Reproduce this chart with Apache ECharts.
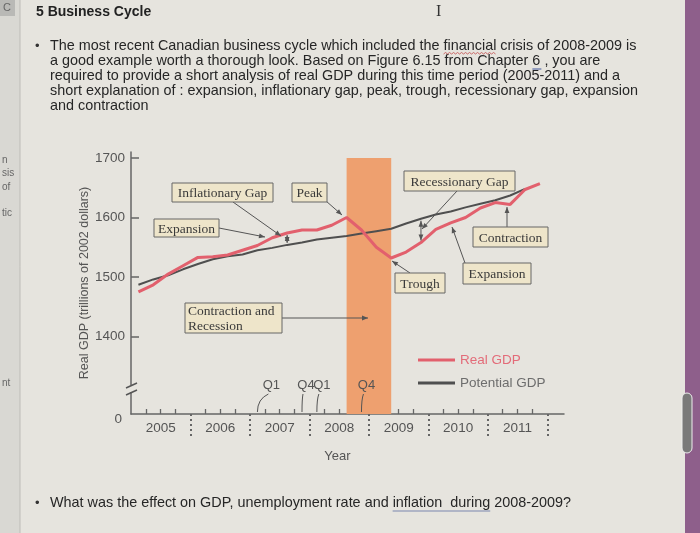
<!DOCTYPE html>
<html>
<head>
<meta charset="utf-8">
<script src="https://cdn.jsdelivr.net/npm/echarts@6.0.0/dist/echarts.min.js"></script>
<style>
  html, body { margin: 0; padding: 0; background: #e6e4de; }
  #chart { width: 700px; height: 533px; }
</style>
</head>
<body>
<div id="chart"></div>
<script>
// quarterly data, 2005 Q1 .. 2011 Q4
const quarterLabels = [
  '2005 Q1', '2005 Q2', '2005 Q3', '2005 Q4',
  '2006 Q1', '2006 Q2', '2006 Q3', '2006 Q4',
  '2007 Q1', '2007 Q2', '2007 Q3', '2007 Q4',
  '2008 Q1', '2008 Q2', '2008 Q3', '2008 Q4',
  '2009 Q1', '2009 Q2', '2009 Q3', '2009 Q4',
  '2010 Q1', '2010 Q2', '2010 Q3', '2010 Q4',
  '2011 Q1', '2011 Q2', '2011 Q3', '2011 Q4'
];
const realGDP = [
  1475, 1487, 1505, 1519,
  1533, 1534, 1537, 1545,
  1553, 1566, 1574, 1579,
  1579, 1587, 1600, 1579,
  1550, 1532, 1542, 1558,
  1580, 1591, 1600, 1616,
  1625, 1622, 1647, 1657
];
const potentialGDP = [
  1487, 1496, 1503, 1513,
  1522, 1530, 1535, 1538,
  1545, 1549, 1554, 1558,
  1563, 1566, 1569, 1573,
  1577, 1581, 1590, 1598,
  1605, 1610, 1617, 1623,
  1629, 1637, 1648
];
const yearLabels = ['2005', '2006', '2007', '2008', '2009', '2010', '2011'];
const yTicks = [1400, 1500, 1600, 1700];
const peakQuarter = '2008 Q3';
const troughQuarter = '2009 Q2';
const quarterMarks = [
  { label: 'Q1', quarter: '2007 Q1', dx: 14 },
  { label: 'Q4', quarter: '2007 Q4', dx: 4 },
  { label: 'Q1', quarter: '2008 Q1', dx: 5 },
  { label: 'Q4', quarter: '2008 Q4', dx: 5 }
];
const yMin = 1270;
const yMax = 1710;

const toYear = (q) => {
  const [y, qq] = q.split(' Q');
  return Number(y) + (Number(qq) - 0.5) / 4;
};

const BG = '#e6e4de';
const SANS = '"Liberation Sans", Arial, sans-serif';
const SERIF = '"Liberation Serif", "Times New Roman", serif';

let quarterTicks = [];
yearLabels.forEach((y) => {
  [0.25, 0.5, 0.75].forEach((f) => quarterTicks.push(Number(y) + f));
});
const yearEdges = yearLabels.map((y) => Number(y) + 1);
const yearMids = yearLabels.map((y) => Number(y) + 0.5);

const chart = echarts.init(document.getElementById('chart'));

const option = {
  animation: false,
  backgroundColor: BG,
  grid: { left: 131, right: 136, top: 152, bottom: 119 },
  legend: {
    orient: 'vertical',
    left: 418,
    top: 353,
    padding: 0,
    icon: 'rect',
    itemWidth: 37,
    itemHeight: 3,
    itemGap: 9,
    textStyle: { fontSize: 13.5, fontFamily: SANS },
    data: [
      { name: 'Real GDP', textStyle: { color: '#e36c79' } },
      { name: 'Potential GDP', textStyle: { color: '#6d6d6d' } }
    ]
  },
  xAxis: [
    {
      type: 'value',
      min: 2005,
      max: 2012.28,
      name: 'Year',
      nameLocation: 'middle',
      nameGap: 36,
      nameTextStyle: { color: '#555', fontSize: 13, fontFamily: SANS, padding: [0, 20, 0, 0] },
      axisLine: { lineStyle: { color: '#666', width: 1.5 } },
      axisTick: {
        inside: true,
        length: 5,
        customValues: quarterTicks,
        lineStyle: { color: '#666', width: 1.3 }
      },
      axisLabel: {
        customValues: yearMids,
        formatter: (v) => String(Math.floor(v)),
        color: '#555',
        fontSize: 13.5,
        fontFamily: SANS,
        margin: 7
      },
      splitLine: { show: false }
    },
    {
      type: 'value',
      min: 2005,
      max: 2012.28,
      position: 'bottom',
      axisLine: { show: false },
      axisLabel: { show: false },
      axisTick: {
        length: 22,
        customValues: yearEdges,
        lineStyle: { color: '#666', width: 2, type: [2, 3] }
      },
      splitLine: { show: false }
    }
  ],
  yAxis: {
    type: 'value',
    min: yMin,
    max: yMax,
    name: 'Real GDP (trillions of 2002 dollars)',
    nameLocation: 'middle',
    nameRotate: 90,
    nameGap: 40,
    nameMoveOverlap: false,
    nameTextStyle: { color: '#555', fontSize: 12.5, fontFamily: SANS },
    axisLine: { show: true, lineStyle: { color: '#666', width: 1.5 } },
    axisTick: {
      show: true,
      inside: true,
      length: 8,
      customValues: yTicks,
      lineStyle: { color: '#666', width: 1.5 }
    },
    axisLabel: {
      customValues: [yMin].concat(yTicks),
      formatter: (v) => (v === yMin ? '{z|0}' : String(v)),
      color: '#555',
      fontSize: 13.5,
      fontFamily: SANS,
      margin: 6,
      rich: { z: { color: '#555', fontSize: 13.5, fontFamily: SANS, padding: [10, 3, 0, 0] } }
    },
    splitLine: { show: false }
  },
  series: [
    {
      name: 'Potential GDP',
      type: 'line',
      symbol: 'none',
      z: 2,
      data: potentialGDP.map((v, i) => [toYear(quarterLabels[i]), v]),
      itemStyle: { color: '#4f4f4f' },
      lineStyle: { color: '#4f4f4f', width: 2 },
      markArea: {
        silent: true,
        itemStyle: { color: '#eea06f' },
        data: [[
          { xAxis: toYear(peakQuarter), yAxis: yMin },
          { xAxis: toYear(troughQuarter), yAxis: 1700 }
        ]]
      }
    },
    {
      name: 'Real GDP',
      type: 'line',
      symbol: 'none',
      z: 3,
      data: realGDP.map((v, i) => [toYear(quarterLabels[i]), v]),
      itemStyle: { color: '#e2606d' },
      lineStyle: { color: '#e2606d', width: 3 }
    }
  ]
};
chart.setOption(option);

/* annotations: boxes, arrows, quarter marks, page text */
const px = (x, y) => chart.convertToPixel({ gridIndex: 0 }, [x, y]);

const box = (text, x, y, w, h, align) => ([
  {
    type: 'rect',
    shape: { x: x, y: y, width: w, height: h },
    style: { fill: '#eee5ca', stroke: '#666', lineWidth: 1 },
    z: 20
  },
  {
    type: 'text',
    x: align === 'left' ? x + 3 : x + w / 2,
    y: y + h / 2 + 1,
    style: {
      text: text,
      font: 'normal 13.5px ' + SERIF,
      fill: '#3a3a3a',
      align: align || 'center',
      verticalAlign: 'middle',
      lineHeight: 15
    },
    z: 21
  }
]);

const head = (x1, y1, x2, y2) => {
  const a = Math.atan2(y2 - y1, x2 - x1);
  const l = 6, w = 2.4;
  const bx = x2 - l * Math.cos(a), by = y2 - l * Math.sin(a);
  return {
    type: 'polygon',
    shape: { points: [[x2, y2], [bx + w * Math.sin(a), by - w * Math.cos(a)], [bx - w * Math.sin(a), by + w * Math.cos(a)]] },
    style: { fill: '#555' },
    z: 19
  };
};

const arrow = (x1, y1, x2, y2, both) => {
  const els = [
    { type: 'line', shape: { x1: x1, y1: y1, x2: x2, y2: y2 }, style: { stroke: '#555', lineWidth: 1 }, z: 19 },
    head(x1, y1, x2, y2)
  ];
  if (both) els.push(head(x2, y2, x1, y1));
  return els;
};

let g = [];

// gap markers between the two lines
const gapAt = (q) => {
  const i = quarterLabels.indexOf(q);
  const a = px(toYear(q), realGDP[i]);
  const b = px(toYear(q), potentialGDP[i]);
  return arrow(a[0], a[1] + 2 * Math.sign(b[1] - a[1]), b[0], b[1] - 2 * Math.sign(b[1] - a[1]), true);
};
g = g.concat(gapAt('2007 Q3'), gapAt('2009 Q4'));

// labelled boxes with leader arrows
g = g.concat(
  arrow(233, 202, 281, 236),
  box('Inflationary Gap', 172, 183, 101, 19),
  arrow(326, 201, 342, 215),
  box('Peak', 292, 183, 35, 19),
  arrow(219, 228, 265, 237),
  box('Expansion', 154, 219, 65, 18),
  arrow(282, 318, 368, 318),
  box('Contraction and\nRecession', 185, 303, 97, 30, 'left'),
  arrow(457, 191, 422, 229),
  box('Recessionary Gap', 404, 171, 111, 20),
  arrow(410, 273, 392, 261),
  box('Trough', 395, 273, 50, 20),
  arrow(465, 263, 452, 227),
  box('Expansion', 463, 263, 68, 21),
  arrow(507, 227, 507, 207),
  box('Contraction', 473, 227, 75, 20)
);

// quarter marks on the time axis
const axisY = px(2005, yMin)[1];
quarterMarks.forEach((m) => {
  const x = px(toYear(m.quarter), yMin)[0];
  g.push({
    type: 'text', x: x + m.dx, y: axisY - 29,
    style: { text: m.label, font: 'normal 13px ' + SANS, fill: '#555', align: 'center', verticalAlign: 'middle' },
    z: 20
  });
  g.push({
    type: 'bezierCurve',
    shape: { x1: x + m.dx - 3, y1: axisY - 20, x2: x, y2: axisY - 2, cpx1: x, cpy1: axisY - 15 },
    style: { stroke: '#555', lineWidth: 1, fill: null },
    z: 20
  });
});

// y-axis break
const ax = px(2005, yMin)[0];
g.push(
  { type: 'rect', shape: { x: ax - 3, y: axisY - 29, width: 6, height: 7 }, style: { fill: BG }, z: 20 },
  { type: 'line', shape: { x1: ax - 5, y1: axisY - 26, x2: ax + 6, y2: axisY - 31 }, style: { stroke: '#555', lineWidth: 1.5 }, z: 21 },
  { type: 'line', shape: { x1: ax - 5, y1: axisY - 19, x2: ax + 6, y2: axisY - 24 }, style: { stroke: '#555', lineWidth: 1.5 }, z: 21 }
);

const TEXT = 'normal 14.4px ' + SANS;
const paraLines = [
  'The most recent Canadian business cycle which included the financial crisis of 2008-2009 is',
  'a good example worth a thorough look. Based on Figure 6.15 from Chapter 6 , you are',
  'required to provide a short analysis of real GDP during this time period (2005-2011) and a',
  'short explanation of : expansion, inflationary gap, peak, trough, recessionary gap, expansion',
  'and contraction'
];
const question = 'What was the effect on GDP, unemployment rate and inflation  during 2008-2009?';

// find where a word sits in a line so its underline follows the text
const ctx = document.createElement('canvas').getContext('2d');
ctx.font = TEXT;
const span = (line, word, x0) => {
  const k = line.indexOf(word);
  const a = x0 + ctx.measureText(line.slice(0, k)).width;
  return [a, a + ctx.measureText(word).width];
};
const fin = span(paraLines[0], 'financial', 50);
const six = span(paraLines[1], 'Chapter 6', 50);
const infl = span(question, 'inflation  during', 50);
const wave = [];
for (let x = fin[0]; x <= fin[1]; x += 2) wave.push([x, (Math.round((x - fin[0]) / 2) % 2) ? 52.5 : 54]);

g.push(
  { type: 'rect', shape: { x: 0, y: 0, width: 20, height: 533 }, style: { fill: '#d9d8d3' }, z: 0 },
  { type: 'line', shape: { x1: 20, y1: 0, x2: 20, y2: 533 }, style: { stroke: '#bdbcb7', lineWidth: 1 }, z: 0 },
  { type: 'rect', shape: { x: 0, y: 0, width: 15, height: 16 }, style: { fill: '#b9b9b6' }, z: 1 },
  { type: 'text', x: 3, y: 8, style: { text: 'C', font: 'normal 11px ' + SANS, fill: '#666', verticalAlign: 'middle' }, z: 2 },
  { type: 'rect', shape: { x: 685, y: 0, width: 15, height: 533 }, style: { fill: '#8e5f8b' }, z: 0 },
  { type: 'rect', shape: { x: 682, y: 393, width: 10, height: 60, r: 5 }, style: { fill: '#7a7a7a', stroke: '#eee', lineWidth: 1 }, z: 1 },
  { type: 'text', x: 2, y: 160, style: { text: 'n', font: 'normal 10px ' + SANS, fill: '#666', verticalAlign: 'middle' }, z: 1 },
  { type: 'text', x: 2, y: 173, style: { text: 'sis', font: 'normal 10px ' + SANS, fill: '#666', verticalAlign: 'middle' }, z: 1 },
  { type: 'text', x: 2, y: 187, style: { text: 'of', font: 'normal 10px ' + SANS, fill: '#666', verticalAlign: 'middle' }, z: 1 },
  { type: 'text', x: 2, y: 213, style: { text: 'tic', font: 'normal 10px ' + SANS, fill: '#666', verticalAlign: 'middle' }, z: 1 },
  { type: 'text', x: 2, y: 383, style: { text: 'nt', font: 'normal 10px ' + SANS, fill: '#666', verticalAlign: 'middle' }, z: 1 },
  {
    type: 'text', x: 36, y: 12,
    style: { text: '5 Business Cycle', font: 'bold 14px ' + SANS, fill: '#222', verticalAlign: 'middle' },
    z: 5
  },
  {
    type: 'text', x: 436, y: 12,
    style: { text: 'I', font: 'normal 16px ' + SERIF, fill: '#333', verticalAlign: 'middle' },
    z: 5
  },
  { type: 'text', x: 35, y: 46, style: { text: '•', font: 'normal 13px ' + SANS, fill: '#333', verticalAlign: 'middle' }, z: 5 },
  {
    type: 'text', x: 50, y: 38,
    style: { text: paraLines.join('\n'), font: TEXT, fill: '#262626', lineHeight: 15.2, verticalAlign: 'top' },
    z: 5
  },
  { type: 'polyline', shape: { points: wave }, style: { stroke: '#c24a4a', lineWidth: 0.8, fill: null }, z: 6 },
  { type: 'line', shape: { x1: six[1] - 8, y1: 69, x2: six[1] + 1, y2: 69 }, style: { stroke: '#5b6ea8', lineWidth: 1.2 }, z: 6 },
  { type: 'text', x: 35, y: 503, style: { text: '•', font: 'normal 13px ' + SANS, fill: '#333', verticalAlign: 'middle' }, z: 5 },
  {
    type: 'text', x: 50, y: 503,
    style: { text: question, font: TEXT, fill: '#262626', verticalAlign: 'middle' },
    z: 5
  },
  { type: 'line', shape: { x1: infl[0], y1: 511, x2: infl[1], y2: 511 }, style: { stroke: '#7a86ad', lineWidth: 1.2 }, z: 6 }
);

chart.setOption({ graphic: g });
</script>
</body>
</html>
